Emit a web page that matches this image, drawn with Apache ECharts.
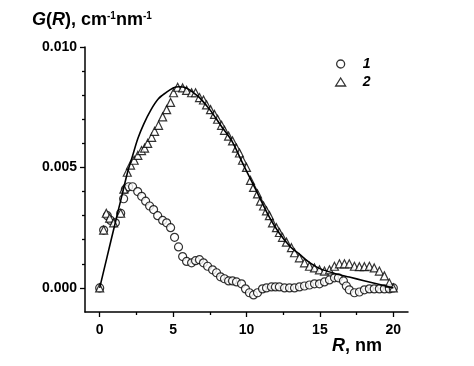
<!DOCTYPE html>
<html><head><meta charset="utf-8">
<script src="https://cdn.jsdelivr.net/npm/echarts@6/dist/echarts.min.js"></script>
<style>html,body{margin:0;padding:0;background:#fff}#c{width:474px;height:366px}</style>
</head><body><div id="c"></div>
<script>
// Series 1 (circles)
const r1 = [0,0.27,0.52,0.75,1.07,1.43,1.63,1.75,1.97,2.24,2.59,2.86,3.13,3.40,3.67,3.95,4.29,4.56,4.83,5.10,5.37,5.65,5.92,6.26,6.53,6.80,7.07,7.35,7.69,7.96,8.23,8.50,8.78,9.05,9.32,9.66,9.93,10.2,10.48,10.75,11.09,11.36,11.70,11.97,12.24,12.59,12.93,13.27,13.61,13.95,14.29,14.63,14.97,15.31,15.65,15.99,16.26,16.6,16.8,17.0,17.35,17.69,18.03,18.37,18.7,19.05,19.39,19.73,20.0];
const g1 = [0,0.0024,0.0030,0.0028,0.0027,0.0031,0.0037,0.0041,0.0042,0.0042,0.0040,0.0038,0.0036,0.0034,0.00325,0.0030,0.0028,0.0027,0.0025,0.0021,0.0017,0.0013,0.0011,0.00104,0.00113,0.00117,0.00104,0.0009,0.00075,0.00063,0.00046,0.00038,0.00029,0.00029,0.00025,0.00017,-0.00004,-0.0002,-0.00029,-0.0002,-0.00004,0,0.00004,0.00004,0.00004,0,0,0,0.00004,0.00008,0.00012,0.00017,0.00017,0.00025,0.00033,0.00042,0.00042,0.00029,0.00008,-0.00008,-0.0002,-0.00017,-0.00008,-0.00004,-0.00004,-0.00004,-0.00004,-0.00004,0];
// Series 2 (triangles)
const r2 = [0,0.27,0.45,0.68,0.95,1.43,1.65,1.88,2.1,2.35,2.6,2.85,3.06,3.27,3.54,3.74,4.01,4.29,4.56,4.83,5.03,5.31,5.65,5.92,6.26,6.53,6.8,7.07,7.28,7.55,7.82,8.03,8.3,8.5,8.78,9.05,9.32,9.52,9.73,10.0,10.27,10.48,10.75,10.95,11.16,11.36,11.56,11.77,12.04,12.24,12.45,12.72,13.06,13.27,13.6,13.95,14.29,14.63,14.97,15.31,15.65,15.99,16.33,16.67,17.0,17.35,17.69,18.03,18.37,18.7,19.05,19.39,19.73,20.0];
const g2 = [0,0.0024,0.0031,0.0029,0.0027,0.0031,0.0041,0.0048,0.0051,0.0053,0.0055,0.0057,0.0058,0.0060,0.00625,0.0065,0.00675,0.0071,0.0074,0.0077,0.0081,0.00833,0.0083,0.0082,0.0081,0.0081,0.0079,0.0078,0.0076,0.0074,0.0072,0.0070,0.00675,0.00654,0.0063,0.0061,0.0058,0.0056,0.0053,0.0050,0.00446,0.00417,0.0039,0.0036,0.0034,0.0032,0.0030,0.0027,0.0025,0.0023,0.0021,0.0019,0.00167,0.00146,0.00125,0.00104,0.0009,0.00083,0.00075,0.0007,0.00075,0.0009,0.0010,0.0010,0.0010,0.0009,0.00088,0.00088,0.0009,0.00083,0.0007,0.0005,0.0002,0];
// Fit curve
const rFit = [0,0.5,1.0,1.5,1.9,2.2,2.6,3.0,3.5,4.0,4.5,5.0,5.4,5.9,6.4,6.8,7.5,8.3,9.0,9.8,10.7,11.5,12.2,13.0,13.6,14.3,15.0,16.0,17.0,18.0,19.0,20.0];
const gFit = [0,0.00128,0.00255,0.0038,0.0048,0.0054,0.0062,0.0068,0.0074,0.00785,0.0081,0.0083,0.00835,0.0083,0.0081,0.0079,0.0074,0.0067,0.0061,0.0051,0.0040,0.0030,0.0023,0.0017,0.0014,0.00105,0.0008,0.0006,0.00045,0.0003,0.00015,0];
// Ticks
const xMajor = [0,5,10,15,20];
const xMinor = [2.5,7.5,12.5,17.5];
const yMajor = [0,0.005,0.010];
const yMinor = [0.001,0.002,0.003,0.004,0.006,0.007,0.008,0.009];
const seriesNames = ['1','2'];

const zip = (a,b) => a.map((v,i)=>[v,b[i]]);
const FONT = '"Liberation Sans", Arial, sans-serif';
const chart = echarts.init(document.getElementById('c'), null, {renderer:'canvas'});
const axLine = {show:true, onZero:false, lineStyle:{color:'#000', width:1.5}};
chart.setOption({
  animation:false,
  backgroundColor:'#fff',
  grid:{left:85, right:66, top:47, bottom:54},
  xAxis:[
    {type:'value', min:-1, max:21, axisLine:axLine, splitLine:{show:false},
     axisTick:{customValues:xMajor, length:5, inside:false, lineStyle:{color:'#000', width:1.3}},
     axisLabel:{customValues:xMajor, margin:11, color:'#000', fontFamily:FONT, fontWeight:'bold', fontSize:14}},
    {type:'value', min:-1, max:21, position:'bottom', axisLine:{show:false, onZero:false}, splitLine:{show:false},
     axisTick:{customValues:xMinor, length:3, lineStyle:{color:'#000', width:1.3}},
     axisLabel:{show:false}}
  ],
  yAxis:[
    {type:'value', min:-0.001, max:0.010, axisLine:axLine, splitLine:{show:false},
     axisTick:{customValues:yMajor, length:5, lineStyle:{color:'#000', width:1.3}},
     axisLabel:{customValues:yMajor, margin:8, color:'#000', fontFamily:FONT, fontWeight:'bold', fontSize:14,
       formatter:v=>v.toFixed(3)}},
    {type:'value', min:-0.001, max:0.010, position:'left', axisLine:{show:false, onZero:false}, splitLine:{show:false},
     axisTick:{customValues:yMinor, length:3, lineStyle:{color:'#000', width:1.3}},
     axisLabel:{show:false}}
  ],
  legend:{
    data:seriesNames, orient:'vertical', left:330, top:52, itemWidth:10, itemHeight:8, itemGap:4,
    textStyle:{color:'#000', fontFamily:FONT, fontWeight:'bold', fontStyle:'italic', fontSize:14, padding:[0,0,0,12]},
    itemStyle:{color:'#fff', borderColor:'#000', borderWidth:1.3}
  },
  graphic:[
    {type:'text', left:32, top:11, style:{
      text:'{i|G}({i|R}), cm{s|-1}nm{s|-1}',
      rich:{
        i:{fontFamily:FONT, fontWeight:'bold', fontStyle:'italic', fontSize:18, fill:'#000'},
        s:{fontFamily:FONT, fontWeight:'bold', fontSize:10, fill:'#000', padding:[0,0,9,0]}
      },
      fontFamily:FONT, fontWeight:'bold', fontSize:18, fill:'#000'}},
    {type:'text', left:332, top:337, style:{
      text:'{i|R}, nm',
      rich:{i:{fontFamily:FONT, fontWeight:'bold', fontStyle:'italic', fontSize:18, fill:'#000'}},
      fontFamily:FONT, fontWeight:'bold', fontSize:18, fill:'#000'}}
  ],
  series:[
    {name:'1', type:'scatter', symbol:'circle', symbolSize:8, data:zip(r1,g1),
     itemStyle:{color:'#fff', borderColor:'#000', borderWidth:1.2}},
    {name:'2', type:'scatter', symbol:'triangle', symbolSize:8, data:zip(r2,g2),
     itemStyle:{color:'#fff', borderColor:'#000', borderWidth:1.2}},
    {name:'fit', type:'line', data:zip(rFit,gFit), showSymbol:false, symbol:'none', smooth:0.3,
     lineStyle:{color:'#000', width:1.6}, z:5}
  ]
});
</script></body></html>
